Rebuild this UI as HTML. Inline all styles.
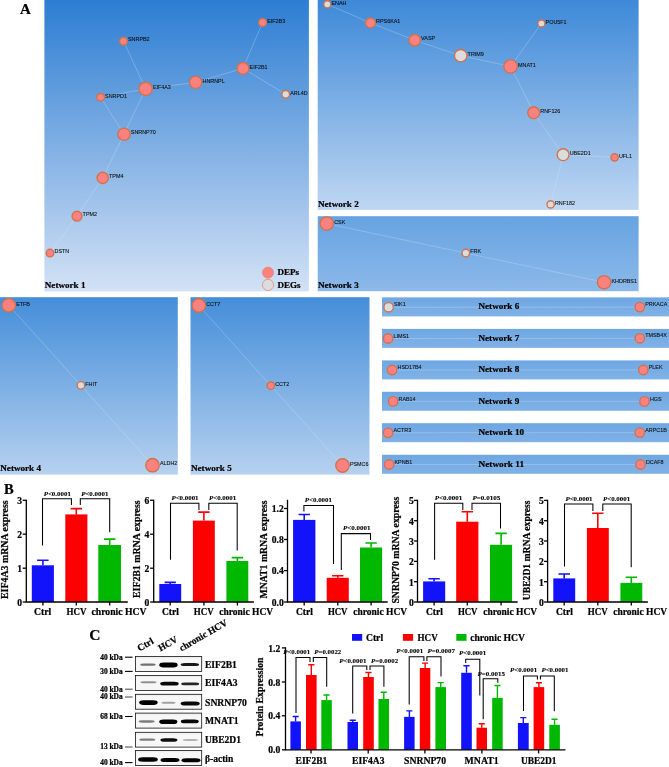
<!DOCTYPE html><html><head><meta charset="utf-8"><title>Figure</title>
<style>html,body{margin:0;padding:0;background:#fff}svg{display:block}.s{font-family:'Liberation Serif', serif;font-weight:bold;fill:#000;stroke:#000;stroke-width:0.22px}.n{font-family:'Liberation Sans', sans-serif;font-size:5.4px;fill:#0a0a0a;stroke:#0a0a0a;stroke-width:0.08px}.e{stroke:#dbe8f7;stroke-width:0.7;stroke-opacity:0.42;fill:none}.p{fill:#fb8080;stroke:#d0734a;stroke-width:1.35}.g{fill:#dcdcdc;stroke:#d0734a;stroke-width:1.35}.ax{stroke:#000;stroke-width:1.3;fill:none}.br{stroke:#000;stroke-width:1.05;fill:none}</style></head><body>
<svg width="669" height="767" viewBox="0 0 669 767">
<defs>
<linearGradient id="g1" x1="0" y1="0" x2="0" y2="1"><stop offset="0" stop-color="#2c7dd3"/><stop offset="1" stop-color="#d3e2f5"/></linearGradient>
<linearGradient id="g2" x1="0" y1="0" x2="0" y2="1"><stop offset="0" stop-color="#3d89d8"/><stop offset="1" stop-color="#bfd7f2"/></linearGradient>
<linearGradient id="g3" x1="0" y1="0" x2="0" y2="1"><stop offset="0" stop-color="#66a3e2"/><stop offset="1" stop-color="#8cb9e9"/></linearGradient>
<linearGradient id="g4" x1="0" y1="0" x2="0" y2="1"><stop offset="0" stop-color="#448ed9"/><stop offset="1" stop-color="#b6d1ef"/></linearGradient>
<linearGradient id="g6" x1="0" y1="0" x2="0" y2="1"><stop offset="0" stop-color="#6ea7e3"/><stop offset="1" stop-color="#80b2e6"/></linearGradient>
</defs>
<rect width="669" height="767" fill="#fff"/>
<text class="s" x="20" y="14" font-size="15" text-anchor="start">A</text>
<rect x="44.4" y="0" width="264.5" height="291.4" fill="url(#g1)"/>
<rect x="317.7" y="0" width="320.9" height="209.9" fill="url(#g2)"/>
<rect x="317.7" y="216.2" width="320.9" height="75" fill="url(#g3)"/>
<rect x="0" y="297.2" width="177.8" height="177.4" fill="url(#g4)"/>
<rect x="190.5" y="297.2" width="179" height="177.4" fill="url(#g4)"/>
<rect x="382" y="297.4" width="287" height="19" fill="url(#g6)"/>
<rect x="382" y="328.9" width="287" height="19" fill="url(#g6)"/>
<rect x="382" y="360.4" width="287" height="19" fill="url(#g6)"/>
<rect x="382" y="391.8" width="287" height="19" fill="url(#g6)"/>
<rect x="382" y="423.2" width="287" height="19" fill="url(#g6)"/>
<rect x="382" y="454.8" width="287" height="19" fill="url(#g6)"/>
<line class="e" x1="262.6" y1="22.6" x2="243.0" y2="68.4"/>
<line class="e" x1="243.0" y1="68.4" x2="195.7" y2="82.3"/>
<line class="e" x1="243.0" y1="68.4" x2="285.7" y2="94.3"/>
<line class="e" x1="195.7" y1="82.3" x2="145.6" y2="88.9"/>
<line class="e" x1="145.6" y1="88.9" x2="123.5" y2="41.2"/>
<line class="e" x1="145.6" y1="88.9" x2="100.6" y2="97.3"/>
<line class="e" x1="145.6" y1="88.9" x2="124.0" y2="134.2"/>
<line class="e" x1="100.6" y1="97.3" x2="124.0" y2="134.2"/>
<line class="e" x1="124.0" y1="134.2" x2="102.7" y2="177.9"/>
<line class="e" x1="102.7" y1="177.9" x2="77.0" y2="216.2"/>
<line class="e" x1="77.0" y1="216.2" x2="50.0" y2="253.1"/>
<circle class="p" cx="262.6" cy="22.6" r="3.92"/>
<circle class="p" cx="243.0" cy="68.4" r="5.92"/>
<circle class="p" cx="195.7" cy="82.3" r="6.12"/>
<circle class="g" cx="285.7" cy="94.3" r="3.82"/>
<circle class="p" cx="145.6" cy="88.9" r="6.62"/>
<circle class="p" cx="123.5" cy="41.2" r="3.82"/>
<circle class="p" cx="100.6" cy="97.3" r="3.82"/>
<circle class="p" cx="124.0" cy="134.2" r="6.12"/>
<circle class="p" cx="102.7" cy="177.9" r="5.62"/>
<circle class="p" cx="77.0" cy="216.2" r="4.92"/>
<circle class="p" cx="50.0" cy="253.1" r="3.82"/>
<text class="n" x="267.2" y="22.8">EIF2B3</text>
<text class="n" x="249.6" y="68.6">EIF2B1</text>
<text class="n" x="202.5" y="82.5">HNRNPL</text>
<text class="n" x="290.2" y="94.5">ARL4D</text>
<text class="n" x="152.9" y="89.1">EIF4A3</text>
<text class="n" x="128.0" y="41.4">SNRPB2</text>
<text class="n" x="105.1" y="97.5">SNRPD1</text>
<text class="n" x="130.8" y="134.4">SNRNP70</text>
<text class="n" x="109.0" y="178.1">TPM4</text>
<text class="n" x="82.6" y="216.4">TPM2</text>
<text class="n" x="54.5" y="253.3">DSTN</text>
<text class="s" x="44.8" y="288.0" font-size="9.2" text-anchor="start" textLength="40.7" lengthAdjust="spacingAndGlyphs">Network 1</text>
<circle cx="268" cy="272.6" r="5.6" fill="#fb8080" stroke="#ec8262" stroke-width="0.6"/>
<circle cx="268" cy="284.9" r="5.6" fill="#dcdcdc" stroke="#e8825e" stroke-width="0.7"/>
<text class="s" x="277.6" y="275.2" font-size="9" text-anchor="start">DEPs</text>
<text class="s" x="277.6" y="287.7" font-size="9" text-anchor="start">DEGs</text>
<line class="e" x1="327.3" y1="4.3" x2="370.5" y2="22.9"/>
<line class="e" x1="370.5" y1="22.9" x2="414.7" y2="40.2"/>
<line class="e" x1="414.7" y1="40.2" x2="460.7" y2="55.7"/>
<line class="e" x1="460.7" y1="55.7" x2="510.6" y2="66.4"/>
<line class="e" x1="510.6" y1="66.4" x2="541.4" y2="23.5"/>
<line class="e" x1="510.6" y1="66.4" x2="533.7" y2="112.7"/>
<line class="e" x1="533.7" y1="112.7" x2="563.1" y2="154.7"/>
<line class="e" x1="563.1" y1="154.7" x2="614.6" y2="157.4"/>
<line class="e" x1="563.1" y1="154.7" x2="550.6" y2="204.4"/>
<circle class="g" cx="327.3" cy="4.3" r="3.52"/>
<circle class="p" cx="370.5" cy="22.9" r="4.92"/>
<circle class="p" cx="414.7" cy="40.2" r="5.72"/>
<circle class="g" cx="460.7" cy="55.7" r="6.22"/>
<circle class="g" cx="541.4" cy="23.5" r="3.52"/>
<circle class="p" cx="510.6" cy="66.4" r="6.72"/>
<circle class="p" cx="533.7" cy="112.7" r="5.92"/>
<circle class="g" cx="563.1" cy="154.7" r="5.92"/>
<circle class="p" cx="614.6" cy="157.4" r="3.62"/>
<circle class="g" cx="550.6" cy="204.4" r="3.62"/>
<text class="n" x="331.5" y="4.5">ENAH</text>
<text class="n" x="376.1" y="23.1">RPS6KA1</text>
<text class="n" x="421.1" y="40.4">VASP</text>
<text class="n" x="467.6" y="55.9">TRIM9</text>
<text class="n" x="545.6" y="23.7">POU5F1</text>
<text class="n" x="518.0" y="66.6">MNAT1</text>
<text class="n" x="540.3" y="112.9">RNF126</text>
<text class="n" x="569.7" y="154.9">UBE2D1</text>
<text class="n" x="618.9" y="157.6">UFL1</text>
<text class="n" x="554.9" y="204.6">RNF182</text>
<text class="s" x="318.0" y="206.5" font-size="9.2" text-anchor="start" textLength="40.7" lengthAdjust="spacingAndGlyphs">Network 2</text>
<line class="e" x1="326.8" y1="223.6" x2="465.8" y2="253.1"/>
<line class="e" x1="465.8" y1="253.1" x2="604.1" y2="282.3"/>
<circle class="p" cx="326.8" cy="223.6" r="6.72"/>
<circle class="g" cx="465.8" cy="253.1" r="3.82"/>
<circle class="p" cx="604.1" cy="282.3" r="6.72"/>
<text class="n" x="334.2" y="223.8">CSK</text>
<text class="n" x="470.3" y="253.3">FRK</text>
<text class="n" x="611.5" y="282.5">KHDRBS1</text>
<text class="s" x="318.0" y="288.0" font-size="9.2" text-anchor="start" textLength="40.7" lengthAdjust="spacingAndGlyphs">Network 3</text>
<line class="e" x1="8.8" y1="305.3" x2="80.9" y2="385.4"/>
<line class="e" x1="80.9" y1="385.4" x2="152.5" y2="465.2"/>
<circle class="p" cx="8.8" cy="305.3" r="6.72"/>
<circle class="g" cx="80.9" cy="385.4" r="3.72"/>
<circle class="p" cx="152.5" cy="465.2" r="6.72"/>
<text class="n" x="16.2" y="305.5">ETFB</text>
<text class="n" x="85.3" y="385.6">FHIT</text>
<text class="n" x="159.9" y="465.4">ALDH2</text>
<text class="s" x="0.3" y="470.8" font-size="9.2" text-anchor="start" textLength="40.7" lengthAdjust="spacingAndGlyphs">Network 4</text>
<line class="e" x1="198.8" y1="305.5" x2="270.8" y2="385.7"/>
<line class="e" x1="270.8" y1="385.7" x2="342.5" y2="465.5"/>
<circle class="p" cx="198.8" cy="305.5" r="6.72"/>
<circle class="p" cx="270.8" cy="385.7" r="3.72"/>
<circle class="p" cx="342.5" cy="465.5" r="6.72"/>
<text class="n" x="206.2" y="305.7">CCT7</text>
<text class="n" x="275.2" y="385.9">CCT2</text>
<text class="n" x="349.9" y="465.7">PSMC6</text>
<text class="s" x="191.0" y="471.0" font-size="9.2" text-anchor="start" textLength="40.7" lengthAdjust="spacingAndGlyphs">Network 5</text>
<line class="e" x1="388.6" y1="307.3" x2="639.8" y2="307.1"/>
<circle class="g" cx="388.6" cy="307.3" r="4.72"/>
<circle class="p" cx="639.8" cy="307.1" r="4.72"/>
<text class="n" x="394.0" y="306.4">SIK1</text>
<text class="n" x="645.2" y="306.2">PRKACA</text>
<text class="s" x="478.5" y="309.29999999999995" font-size="9.2" text-anchor="start" textLength="40.7" lengthAdjust="spacingAndGlyphs">Network 6</text>
<line class="e" x1="388.1" y1="338.5" x2="639.8" y2="338.3"/>
<circle class="p" cx="388.1" cy="338.5" r="4.72"/>
<circle class="p" cx="639.8" cy="338.3" r="4.72"/>
<text class="n" x="393.5" y="337.6">LIMS1</text>
<text class="n" x="645.2" y="337.4">TMSB4X</text>
<text class="s" x="478.5" y="340.79999999999995" font-size="9.2" text-anchor="start" textLength="40.7" lengthAdjust="spacingAndGlyphs">Network 7</text>
<line class="e" x1="392.1" y1="370.0" x2="643.3" y2="370.0"/>
<circle class="p" cx="392.1" cy="370.0" r="4.72"/>
<circle class="p" cx="643.3" cy="370.0" r="4.72"/>
<text class="n" x="397.5" y="369.1">HSD17B4</text>
<text class="n" x="648.7" y="369.1">PLEK</text>
<text class="s" x="478.5" y="372.29999999999995" font-size="9.2" text-anchor="start" textLength="40.7" lengthAdjust="spacingAndGlyphs">Network 8</text>
<line class="e" x1="393.1" y1="401.4" x2="644.5" y2="401.4"/>
<circle class="p" cx="393.1" cy="401.4" r="4.72"/>
<circle class="p" cx="644.5" cy="401.4" r="4.72"/>
<text class="n" x="398.5" y="400.5">RAB14</text>
<text class="n" x="649.9" y="400.5">HGS</text>
<text class="s" x="478.5" y="403.7" font-size="9.2" text-anchor="start" textLength="40.7" lengthAdjust="spacingAndGlyphs">Network 9</text>
<line class="e" x1="388.1" y1="432.8" x2="639.8" y2="432.6"/>
<circle class="p" cx="388.1" cy="432.8" r="4.72"/>
<circle class="p" cx="639.8" cy="432.6" r="4.72"/>
<text class="n" x="393.5" y="431.9">ACTR3</text>
<text class="n" x="645.2" y="431.7">ARPC1B</text>
<text class="s" x="478.5" y="435.09999999999997" font-size="9.2" text-anchor="start" textLength="45.6" lengthAdjust="spacingAndGlyphs">Network 10</text>
<line class="e" x1="389.1" y1="464.5" x2="640.5" y2="464.5"/>
<circle class="p" cx="389.1" cy="464.5" r="4.72"/>
<circle class="p" cx="640.5" cy="464.5" r="4.72"/>
<text class="n" x="394.5" y="463.6">KPNB1</text>
<text class="n" x="645.9" y="463.6">DCAF8</text>
<text class="s" x="478.5" y="466.7" font-size="9.2" text-anchor="start" textLength="45.6" lengthAdjust="spacingAndGlyphs">Network 11</text>
<text class="s" x="4" y="494.2" font-size="14.5" text-anchor="start">B</text>
<rect x="31.8" y="565.3" width="22.1" height="36.7" fill="#1212fb"/>
<path d="M42.9 565.3V560.2M37.1 560.2H48.6" stroke="#1212fb" stroke-width="1.6" fill="none"/>
<path class="ax" d="M42.9 602v3.6"/>
<rect x="65.3" y="514.4" width="22.1" height="87.6" fill="#ff0000"/>
<path d="M76.3 514.4V508.6M70.6 508.6H82.0" stroke="#ff0000" stroke-width="1.6" fill="none"/>
<path class="ax" d="M76.3 602v3.6"/>
<rect x="98.3" y="545.0" width="22.7" height="57.0" fill="#00b800"/>
<path d="M109.7 545.0V539.1M104.0 539.1H115.4" stroke="#00b800" stroke-width="1.6" fill="none"/>
<path class="ax" d="M109.7 602v3.6"/>
<path class="ax" d="M26.3 499.7V602H127.8"/>
<path class="ax" d="M26.3 500.3h-3.6"/>
<text class="s" x="22.0" y="504.1" font-size="9.6" text-anchor="end">3</text>
<path class="ax" d="M26.3 534.2h-3.6"/>
<text class="s" x="22.0" y="538.0" font-size="9.6" text-anchor="end">2</text>
<path class="ax" d="M26.3 568.2h-3.6"/>
<text class="s" x="22.0" y="572.0" font-size="9.6" text-anchor="end">1</text>
<path class="ax" d="M26.3 602h-3.6"/>
<text class="s" x="22.0" y="605.8" font-size="9.6" text-anchor="end">0</text>
<text class="s" font-size="9.8" text-anchor="middle" textLength="98.6" lengthAdjust="spacingAndGlyphs" transform="translate(8.4,549.7) rotate(-90)">EIF4A3 mRNA express</text>
<path class="br" d="M42.5 545.6V498.8H71.4V505.0"/>
<path class="br" d="M80.3 505.0V498.8H109.7V532.2"/>
<text class="s" x="43.7" y="495.6" font-size="7.1" style="stroke-width:0.12px" textLength="27.2" lengthAdjust="spacingAndGlyphs"><tspan font-style="italic">P</tspan>&lt;0.0001</text>
<text class="s" x="81.2" y="495.6" font-size="7.1" style="stroke-width:0.12px" textLength="27.2" lengthAdjust="spacingAndGlyphs"><tspan font-style="italic">P</tspan>&lt;0.0001</text>
<text class="s" x="34.0" y="614.8" font-size="9.5" text-anchor="start" textLength="17.3" lengthAdjust="spacingAndGlyphs">Ctrl</text>
<text class="s" x="66.4" y="614.8" font-size="9.5" text-anchor="start" textLength="20.0" lengthAdjust="spacingAndGlyphs">HCV</text>
<text class="s" x="91.5" y="614.8" font-size="9.5" text-anchor="start" textLength="55.0" lengthAdjust="spacingAndGlyphs">chronic HCV</text>
<rect x="159.3" y="584.0" width="21.9" height="18.0" fill="#1212fb"/>
<path d="M170.2 584.0V582.4M164.6 582.4H175.9" stroke="#1212fb" stroke-width="1.6" fill="none"/>
<path class="ax" d="M170.2 602v3.6"/>
<rect x="192.9" y="520.6" width="21.9" height="81.4" fill="#ff0000"/>
<path d="M203.9 520.6V512.1M198.2 512.1H209.6" stroke="#ff0000" stroke-width="1.6" fill="none"/>
<path class="ax" d="M203.9 602v3.6"/>
<rect x="226.4" y="561.0" width="21.9" height="41.0" fill="#00b800"/>
<path d="M237.4 561.0V557.6M231.7 557.6H243.1" stroke="#00b800" stroke-width="1.6" fill="none"/>
<path class="ax" d="M237.4 602v3.6"/>
<path class="ax" d="M153.7 499.7V602H253.9"/>
<path class="ax" d="M153.7 500.3h-3.6"/>
<text class="s" x="149.3" y="504.1" font-size="9.6" text-anchor="end">6</text>
<path class="ax" d="M153.7 534.2h-3.6"/>
<text class="s" x="149.3" y="538.0" font-size="9.6" text-anchor="end">4</text>
<path class="ax" d="M153.7 568.2h-3.6"/>
<text class="s" x="149.3" y="572.0" font-size="9.6" text-anchor="end">2</text>
<path class="ax" d="M153.7 602h-3.6"/>
<text class="s" x="149.3" y="605.8" font-size="9.6" text-anchor="end">0</text>
<text class="s" font-size="9.8" text-anchor="middle" textLength="97.6" lengthAdjust="spacingAndGlyphs" transform="translate(139.9,549.2) rotate(-90)">EIF2B1 mRNA express</text>
<path class="br" d="M170.5 559.8V503.3H198.9V510.0"/>
<path class="br" d="M208.8 510.0V503.3H237.2V550.4"/>
<text class="s" x="171.4" y="500.3" font-size="7.1" style="stroke-width:0.12px" textLength="27.2" lengthAdjust="spacingAndGlyphs"><tspan font-style="italic">P</tspan>&lt;0.0001</text>
<text class="s" x="209.0" y="500.3" font-size="7.1" style="stroke-width:0.12px" textLength="27.2" lengthAdjust="spacingAndGlyphs"><tspan font-style="italic">P</tspan>&lt;0.0001</text>
<text class="s" x="162.0" y="614.8" font-size="9.5" text-anchor="start" textLength="16.9" lengthAdjust="spacingAndGlyphs">Ctrl</text>
<text class="s" x="193.8" y="614.8" font-size="9.5" text-anchor="start" textLength="19.9" lengthAdjust="spacingAndGlyphs">HCV</text>
<text class="s" x="219.2" y="614.8" font-size="9.5" text-anchor="start" textLength="54.0" lengthAdjust="spacingAndGlyphs">chronic HCV</text>
<rect x="293.1" y="519.9" width="22.3" height="82.1" fill="#1212fb"/>
<path d="M304.2 519.9V514.5M298.6 514.5H309.9" stroke="#1212fb" stroke-width="1.6" fill="none"/>
<path class="ax" d="M304.2 602v3.6"/>
<rect x="326.7" y="577.8" width="22.1" height="24.2" fill="#ff0000"/>
<path d="M337.8 577.8V575.8M332.1 575.8H343.4" stroke="#ff0000" stroke-width="1.6" fill="none"/>
<path class="ax" d="M337.8 602v3.6"/>
<rect x="360.0" y="547.5" width="22.1" height="54.5" fill="#00b800"/>
<path d="M371.1 547.5V543.0M365.4 543.0H376.8" stroke="#00b800" stroke-width="1.6" fill="none"/>
<path class="ax" d="M371.1 602v3.6"/>
<path class="ax" d="M287.5 499.7V602H387.7"/>
<path class="ax" d="M287.5 508.5h-3.6"/>
<text class="s" x="283.8" y="512.3" font-size="9.6" text-anchor="end">1.2</text>
<path class="ax" d="M287.5 539.5h-3.6"/>
<text class="s" x="283.8" y="543.3" font-size="9.6" text-anchor="end">0.8</text>
<path class="ax" d="M287.5 570.6h-3.6"/>
<text class="s" x="283.8" y="574.4" font-size="9.6" text-anchor="end">0.4</text>
<path class="ax" d="M287.5 602h-3.6"/>
<text class="s" x="283.8" y="605.8" font-size="9.6" text-anchor="end">0.0</text>
<text class="s" font-size="9.8" text-anchor="middle" textLength="98.0" lengthAdjust="spacingAndGlyphs" transform="translate(266.5,549.4) rotate(-90)">MNAT1 mRNA express</text>
<path class="br" d="M303.9 511.6V505.5H333.5V563.9"/>
<path class="br" d="M341.3 569.9V533.6H370.5V539.9"/>
<text class="s" x="304.8" y="502.3" font-size="7.1" style="stroke-width:0.12px" textLength="27.2" lengthAdjust="spacingAndGlyphs"><tspan font-style="italic">P</tspan>&lt;0.0001</text>
<text class="s" x="342.9" y="530.3" font-size="7.1" style="stroke-width:0.12px" textLength="27.5" lengthAdjust="spacingAndGlyphs"><tspan font-style="italic">P</tspan>&lt;0.0001</text>
<text class="s" x="296.0" y="614.8" font-size="9.5" text-anchor="start" textLength="16.9" lengthAdjust="spacingAndGlyphs">Ctrl</text>
<text class="s" x="327.9" y="614.8" font-size="9.5" text-anchor="start" textLength="19.6" lengthAdjust="spacingAndGlyphs">HCV</text>
<text class="s" x="353.2" y="614.8" font-size="9.5" text-anchor="start" textLength="54.0" lengthAdjust="spacingAndGlyphs">chronic HCV</text>
<rect x="423.1" y="581.4" width="22.1" height="20.6" fill="#1212fb"/>
<path d="M434.1 581.4V578.7M428.4 578.7H439.8" stroke="#1212fb" stroke-width="1.6" fill="none"/>
<path class="ax" d="M434.1 602v3.6"/>
<rect x="456.2" y="521.7" width="22.2" height="80.3" fill="#ff0000"/>
<path d="M467.3 521.7V511.8M461.6 511.8H473.0" stroke="#ff0000" stroke-width="1.6" fill="none"/>
<path class="ax" d="M467.3 602v3.6"/>
<rect x="490.0" y="544.8" width="22.1" height="57.2" fill="#00b800"/>
<path d="M501.1 544.8V533.4M495.4 533.4H506.8" stroke="#00b800" stroke-width="1.6" fill="none"/>
<path class="ax" d="M501.1 602v3.6"/>
<path class="ax" d="M417.5 499.7V602H517.7"/>
<path class="ax" d="M417.5 500.4h-3.6"/>
<text class="s" x="413.8" y="504.2" font-size="9.6" text-anchor="end">5</text>
<path class="ax" d="M417.5 520.7h-3.6"/>
<text class="s" x="413.8" y="524.5" font-size="9.6" text-anchor="end">4</text>
<path class="ax" d="M417.5 541.0h-3.6"/>
<text class="s" x="413.8" y="544.8" font-size="9.6" text-anchor="end">3</text>
<path class="ax" d="M417.5 561.4h-3.6"/>
<text class="s" x="413.8" y="565.1999999999999" font-size="9.6" text-anchor="end">2</text>
<path class="ax" d="M417.5 581.7h-3.6"/>
<text class="s" x="413.8" y="585.5" font-size="9.6" text-anchor="end">1</text>
<path class="ax" d="M417.5 602h-3.6"/>
<text class="s" x="413.8" y="605.8" font-size="9.6" text-anchor="end">0</text>
<text class="s" font-size="9.8" text-anchor="middle" textLength="107.0" lengthAdjust="spacingAndGlyphs" transform="translate(399.4,550.1) rotate(-90)">SNRNP70 mRNA express</text>
<path class="br" d="M434.6 559.8V503.3H462.8V510.0"/>
<path class="br" d="M472.0 510.0V503.3H500.5V528.4"/>
<text class="s" x="434.8" y="499.9" font-size="7.1" style="stroke-width:0.12px" textLength="27.5" lengthAdjust="spacingAndGlyphs"><tspan font-style="italic">P</tspan>&lt;0.0001</text>
<text class="s" x="472.4" y="499.9" font-size="7.1" style="stroke-width:0.12px" textLength="28.0" lengthAdjust="spacingAndGlyphs"><tspan font-style="italic">P</tspan>=0.0105</text>
<text class="s" x="426.0" y="614.8" font-size="9.5" text-anchor="start" textLength="16.9" lengthAdjust="spacingAndGlyphs">Ctrl</text>
<text class="s" x="457.9" y="614.8" font-size="9.5" text-anchor="start" textLength="19.6" lengthAdjust="spacingAndGlyphs">HCV</text>
<text class="s" x="483.2" y="614.8" font-size="9.5" text-anchor="start" textLength="54.0" lengthAdjust="spacingAndGlyphs">chronic HCV</text>
<rect x="553.3" y="578.4" width="21.9" height="23.6" fill="#1212fb"/>
<path d="M564.2 578.4V574.0M558.5 574.0H570.0" stroke="#1212fb" stroke-width="1.6" fill="none"/>
<path class="ax" d="M564.2 602v3.6"/>
<rect x="586.9" y="528.0" width="21.9" height="74.0" fill="#ff0000"/>
<path d="M597.8 528.0V513.2M592.1 513.2H603.5" stroke="#ff0000" stroke-width="1.6" fill="none"/>
<path class="ax" d="M597.8 602v3.6"/>
<rect x="620.4" y="582.9" width="21.9" height="19.1" fill="#00b800"/>
<path d="M631.3 582.9V577.3M625.6 577.3H637.0" stroke="#00b800" stroke-width="1.6" fill="none"/>
<path class="ax" d="M631.3 602v3.6"/>
<path class="ax" d="M547.6 499.7V602H647.9"/>
<path class="ax" d="M547.6 500.4h-3.6"/>
<text class="s" x="543.8" y="504.2" font-size="9.6" text-anchor="end">5</text>
<path class="ax" d="M547.6 520.7h-3.6"/>
<text class="s" x="543.8" y="524.5" font-size="9.6" text-anchor="end">4</text>
<path class="ax" d="M547.6 541.0h-3.6"/>
<text class="s" x="543.8" y="544.8" font-size="9.6" text-anchor="end">3</text>
<path class="ax" d="M547.6 561.4h-3.6"/>
<text class="s" x="543.8" y="565.1999999999999" font-size="9.6" text-anchor="end">2</text>
<path class="ax" d="M547.6 581.7h-3.6"/>
<text class="s" x="543.8" y="585.5" font-size="9.6" text-anchor="end">1</text>
<path class="ax" d="M547.6 602h-3.6"/>
<text class="s" x="543.8" y="605.8" font-size="9.6" text-anchor="end">0</text>
<text class="s" font-size="9.8" text-anchor="middle" textLength="99.8" lengthAdjust="spacingAndGlyphs" transform="translate(530.0,550.3) rotate(-90)">UBE2D1 mRNA express</text>
<path class="br" d="M564.5 566.6V503.9H592.9V511.0"/>
<path class="br" d="M602.8 511.0V503.9H631.2V567.2"/>
<text class="s" x="565.4" y="500.6" font-size="7.1" style="stroke-width:0.12px" textLength="27.2" lengthAdjust="spacingAndGlyphs"><tspan font-style="italic">P</tspan>&lt;0.0001</text>
<text class="s" x="603.0" y="500.6" font-size="7.1" style="stroke-width:0.12px" textLength="27.2" lengthAdjust="spacingAndGlyphs"><tspan font-style="italic">P</tspan>&lt;0.0001</text>
<text class="s" x="556.0" y="614.8" font-size="9.5" text-anchor="start" textLength="16.9" lengthAdjust="spacingAndGlyphs">Ctrl</text>
<text class="s" x="587.8" y="614.8" font-size="9.5" text-anchor="start" textLength="19.9" lengthAdjust="spacingAndGlyphs">HCV</text>
<text class="s" x="613.2" y="614.8" font-size="9.5" text-anchor="start" textLength="54.0" lengthAdjust="spacingAndGlyphs">chronic HCV</text>
<text class="s" x="89.2" y="640" font-size="15.5" text-anchor="start">C</text>
<text class="s" font-size="9.5" textLength="17.2" lengthAdjust="spacingAndGlyphs" transform="translate(139.5,651.5) rotate(-30)">Ctrl</text>
<text class="s" font-size="9.5" textLength="20.5" lengthAdjust="spacingAndGlyphs" transform="translate(160.5,651.5) rotate(-30)">HCV</text>
<text class="s" font-size="9.5" textLength="54" lengthAdjust="spacingAndGlyphs" transform="translate(181.5,651.5) rotate(-30)">chronic HCV</text>
<defs><filter id="bl" x="-20%" y="-100%" width="140%" height="300%"><feGaussianBlur stdDeviation="0.75 0.55"/></filter><linearGradient id="bx" x1="0" y1="0" x2="0" y2="1"><stop offset="0" stop-color="#e9e9e9"/><stop offset="0.18" stop-color="#f8f8f8"/><stop offset="1" stop-color="#f6f6f6"/></linearGradient></defs>
<rect x="135.4" y="656.6" width="66.3" height="14.8" fill="url(#bx)" stroke="#111" stroke-width="0.8"/>
<rect x="140.2" y="663.56" width="15.5" height="2.29" rx="3.7" ry="1.14" fill="#000" fill-opacity="0.55" filter="url(#bl)"/>
<rect x="159.2" y="662.54" width="18.5" height="4.93" rx="4.4" ry="2.46" fill="#000" fill-opacity="1.0" filter="url(#bl)"/>
<rect x="180.6" y="662.92" width="18.5" height="3.17" rx="4.4" ry="1.58" fill="#000" fill-opacity="0.9" filter="url(#bl)"/>
<rect x="135.4" y="675.5" width="66.3" height="14.9" fill="url(#bx)" stroke="#111" stroke-width="0.8"/>
<rect x="140.5" y="681.24" width="16.0" height="2.11" rx="3.8" ry="1.06" fill="#000" fill-opacity="0.42" filter="url(#bl)"/>
<rect x="160.2" y="681.85" width="18.5" height="3.70" rx="4.4" ry="1.85" fill="#000" fill-opacity="0.97" filter="url(#bl)"/>
<rect x="181.2" y="682.49" width="18.0" height="2.82" rx="4.3" ry="1.41" fill="#000" fill-opacity="0.85" filter="url(#bl)"/>
<rect x="135.4" y="694.3" width="66.3" height="14.9" fill="url(#bx)" stroke="#111" stroke-width="0.8"/>
<rect x="139.2" y="700.31" width="18.5" height="4.58" rx="4.4" ry="2.29" fill="#000" fill-opacity="1.0" filter="url(#bl)"/>
<rect x="161.5" y="701.73" width="14.0" height="1.94" rx="3.4" ry="0.97" fill="#000" fill-opacity="0.35" filter="url(#bl)"/>
<rect x="180.7" y="701.38" width="19.0" height="4.05" rx="4.6" ry="2.02" fill="#000" fill-opacity="0.97" filter="url(#bl)"/>
<rect x="135.4" y="713.1" width="66.3" height="15.0" fill="url(#bx)" stroke="#111" stroke-width="0.8"/>
<rect x="138.7" y="720.36" width="16.0" height="2.29" rx="3.8" ry="1.14" fill="#000" fill-opacity="0.5" filter="url(#bl)"/>
<rect x="159.2" y="719.41" width="18.2" height="4.58" rx="4.4" ry="2.29" fill="#000" fill-opacity="1.0" filter="url(#bl)"/>
<rect x="180.8" y="719.55" width="18.0" height="3.70" rx="4.3" ry="1.85" fill="#000" fill-opacity="0.97" filter="url(#bl)"/>
<rect x="135.4" y="732.3" width="66.3" height="14.8" fill="url(#bx)" stroke="#111" stroke-width="0.8"/>
<rect x="139.3" y="738.56" width="16.0" height="2.29" rx="3.8" ry="1.14" fill="#000" fill-opacity="0.5" filter="url(#bl)"/>
<rect x="160.4" y="738.14" width="17.0" height="3.52" rx="4.1" ry="1.76" fill="#000" fill-opacity="0.95" filter="url(#bl)"/>
<rect x="182.9" y="739.12" width="15.0" height="1.76" rx="3.6" ry="0.88" fill="#000" fill-opacity="0.28" filter="url(#bl)"/>
<rect x="135.4" y="750.5" width="66.3" height="14.9" fill="url(#bx)" stroke="#111" stroke-width="0.8"/>
<rect x="138.1" y="757.30" width="19.7" height="4.40" rx="4.7" ry="2.20" fill="#000" fill-opacity="1.0" filter="url(#bl)"/>
<rect x="160.5" y="757.98" width="19.0" height="4.05" rx="4.6" ry="2.02" fill="#000" fill-opacity="1.0" filter="url(#bl)"/>
<rect x="181.5" y="758.18" width="19.0" height="4.05" rx="4.6" ry="2.02" fill="#000" fill-opacity="1.0" filter="url(#bl)"/>
<text class="s" x="205.0" y="667.6" font-size="9.5" text-anchor="start" textLength="31.8" lengthAdjust="spacingAndGlyphs">EIF2B1</text>
<text class="s" x="205.0" y="686.2" font-size="9.5" text-anchor="start" textLength="32.7" lengthAdjust="spacingAndGlyphs">EIF4A3</text>
<text class="s" x="205.0" y="705.9" font-size="9.5" text-anchor="start" textLength="41.9" lengthAdjust="spacingAndGlyphs">SNRNP70</text>
<text class="s" x="205.0" y="723.9" font-size="9.5" text-anchor="start" textLength="33.5" lengthAdjust="spacingAndGlyphs">MNAT1</text>
<text class="s" x="205.0" y="742.9" font-size="9.5" text-anchor="start" textLength="35.9" lengthAdjust="spacingAndGlyphs">UBE2D1</text>
<text class="s" x="205.0" y="761.8" font-size="9.5" text-anchor="start" textLength="28.3" lengthAdjust="spacingAndGlyphs">β-actin</text>
<text class="s" x="100.2" y="659.6" font-size="7.3" text-anchor="start" textLength="22.5" lengthAdjust="spacingAndGlyphs">40 kDa</text>
<path d="M125 657.2h7.6" stroke="#000" stroke-width="1.1"/>
<text class="s" x="100.2" y="673.8" font-size="7.3" text-anchor="start" textLength="22.5" lengthAdjust="spacingAndGlyphs">30 kDa</text>
<path d="M125 671.4h7.6" stroke="#000" stroke-width="1.1"/>
<text class="s" x="100.2" y="691.6" font-size="7.3" text-anchor="start" textLength="22.5" lengthAdjust="spacingAndGlyphs">40 kDa</text>
<path d="M125 689.2h7.6" stroke="#000" stroke-width="0.75"/>
<text class="s" x="100.2" y="699.4" font-size="7.3" text-anchor="start" textLength="22.5" lengthAdjust="spacingAndGlyphs">40 kDa</text>
<path d="M125 697.0h7.6" stroke="#000" stroke-width="0.75"/>
<text class="s" x="100.2" y="718.9" font-size="7.3" text-anchor="start" textLength="22.5" lengthAdjust="spacingAndGlyphs">68 kDa</text>
<path d="M125 716.5h7.6" stroke="#000" stroke-width="1.1"/>
<text class="s" x="100.2" y="749.4" font-size="7.3" text-anchor="start" textLength="22.5" lengthAdjust="spacingAndGlyphs">13 kDa</text>
<path d="M125 747.0h7.6" stroke="#000" stroke-width="0.75"/>
<text class="s" x="100.2" y="765.0" font-size="7.3" text-anchor="start" textLength="22.5" lengthAdjust="spacingAndGlyphs">40 kDa</text>
<path d="M125 762.6h7.6" stroke="#000" stroke-width="1.1"/>
<rect x="352.0" y="634" width="10.2" height="6.8" fill="#1212fb"/>
<text class="s" x="365.9" y="641.2" font-size="9.5" text-anchor="start" textLength="17.2" lengthAdjust="spacingAndGlyphs">Ctrl</text>
<rect x="402.9" y="634" width="10.2" height="6.8" fill="#ff0000"/>
<text class="s" x="417.5" y="641.2" font-size="9.5" text-anchor="start" textLength="20.2" lengthAdjust="spacingAndGlyphs">HCV</text>
<rect x="456.3" y="634" width="10.2" height="6.8" fill="#00b800"/>
<text class="s" x="470.2" y="641.2" font-size="9.5" text-anchor="start" textLength="54.9" lengthAdjust="spacingAndGlyphs">chronic HCV</text>
<rect x="290.4" y="721.4" width="10.5" height="28.4" fill="#1212fb"/>
<path d="M295.6 721.4V716.5M292.6 716.5H298.7" stroke="#1212fb" stroke-width="1.4" fill="none"/>
<rect x="306.0" y="675.0" width="10.6" height="74.8" fill="#ff0000"/>
<path d="M311.3 675.0V664.7M308.2 664.7H314.4" stroke="#ff0000" stroke-width="1.4" fill="none"/>
<rect x="321.3" y="700.1" width="10.5" height="49.7" fill="#00b800"/>
<path d="M326.6 700.1V695.0M323.5 695.0H329.6" stroke="#00b800" stroke-width="1.4" fill="none"/>
<path class="ax" d="M311.0 749.8v3.6"/>
<text class="s" x="295.5" y="764.3" font-size="9.5" text-anchor="start" textLength="31.9" lengthAdjust="spacingAndGlyphs">EIF2B1</text>
<rect x="347.5" y="722.0" width="10.5" height="27.8" fill="#1212fb"/>
<path d="M352.8 722.0V720.3M349.7 720.3H355.8" stroke="#1212fb" stroke-width="1.4" fill="none"/>
<rect x="363.2" y="677.0" width="10.6" height="72.8" fill="#ff0000"/>
<path d="M368.5 677.0V672.5M365.4 672.5H371.6" stroke="#ff0000" stroke-width="1.4" fill="none"/>
<rect x="378.5" y="699.0" width="10.5" height="50.8" fill="#00b800"/>
<path d="M383.8 699.0V692.3M380.7 692.3H386.8" stroke="#00b800" stroke-width="1.4" fill="none"/>
<path class="ax" d="M368.2 749.8v3.6"/>
<text class="s" x="352.0" y="764.3" font-size="9.5" text-anchor="start" textLength="32.5" lengthAdjust="spacingAndGlyphs">EIF4A3</text>
<rect x="404.1" y="716.9" width="10.5" height="32.9" fill="#1212fb"/>
<path d="M409.4 716.9V710.9M406.3 710.9H412.4" stroke="#1212fb" stroke-width="1.4" fill="none"/>
<rect x="419.8" y="668.0" width="10.5" height="81.8" fill="#ff0000"/>
<path d="M425.1 668.0V663.1M422.0 663.1H428.1" stroke="#ff0000" stroke-width="1.4" fill="none"/>
<rect x="435.4" y="687.1" width="10.6" height="62.7" fill="#00b800"/>
<path d="M440.7 687.1V682.6M437.6 682.6H443.8" stroke="#00b800" stroke-width="1.4" fill="none"/>
<path class="ax" d="M424.9 749.8v3.6"/>
<text class="s" x="404.0" y="764.3" font-size="9.5" text-anchor="start" textLength="42.0" lengthAdjust="spacingAndGlyphs">SNRNP70</text>
<rect x="461.2" y="672.8" width="10.6" height="77.0" fill="#1212fb"/>
<path d="M466.5 672.8V665.8M463.4 665.8H469.6" stroke="#1212fb" stroke-width="1.4" fill="none"/>
<rect x="476.5" y="727.7" width="10.5" height="22.1" fill="#ff0000"/>
<path d="M481.8 727.7V723.7M478.7 723.7H484.8" stroke="#ff0000" stroke-width="1.4" fill="none"/>
<rect x="492.2" y="697.9" width="10.5" height="51.9" fill="#00b800"/>
<path d="M497.4 697.9V685.5M494.4 685.5H500.5" stroke="#00b800" stroke-width="1.4" fill="none"/>
<path class="ax" d="M481.9 749.8v3.6"/>
<text class="s" x="464.6" y="764.3" font-size="9.5" text-anchor="start" textLength="34.1" lengthAdjust="spacingAndGlyphs">MNAT1</text>
<rect x="517.9" y="723.0" width="10.8" height="26.8" fill="#1212fb"/>
<path d="M523.3 723.0V717.6M520.2 717.6H526.3" stroke="#1212fb" stroke-width="1.4" fill="none"/>
<rect x="533.6" y="687.1" width="10.6" height="62.7" fill="#ff0000"/>
<path d="M538.9 687.1V682.8M535.9 682.8H542.0" stroke="#ff0000" stroke-width="1.4" fill="none"/>
<rect x="549.3" y="724.8" width="10.6" height="25.0" fill="#00b800"/>
<path d="M554.6 724.8V719.2M551.5 719.2H557.6" stroke="#00b800" stroke-width="1.4" fill="none"/>
<path class="ax" d="M538.6 749.8v3.6"/>
<text class="s" x="520.9" y="764.3" font-size="9.5" text-anchor="start" textLength="35.6" lengthAdjust="spacingAndGlyphs">UBE2D1</text>
<path class="ax" d="M285.5 647.2V749.8H565.5"/>
<path class="ax" d="M285.5 647.9h-3.6"/>
<text class="s" x="280.2" y="651.5" font-size="9.6" text-anchor="end">1.2</text>
<path class="ax" d="M285.5 682.0h-3.6"/>
<text class="s" x="280.2" y="685.6" font-size="9.6" text-anchor="end">0.8</text>
<path class="ax" d="M285.5 715.8h-3.6"/>
<text class="s" x="280.2" y="719.4" font-size="9.6" text-anchor="end">0.4</text>
<path class="ax" d="M285.5 749.8h-3.6"/>
<text class="s" x="280.2" y="753.4" font-size="9.6" text-anchor="end">0.0</text>
<text class="s" font-size="9.8" text-anchor="middle" textLength="79" lengthAdjust="spacingAndGlyphs" transform="translate(263.2,697) rotate(-90)">Protein Expression</text>
<path class="br" d="M296.0 713.1V657.5H310.0V662.0"/>
<path class="br" d="M313.3 662.0V657.5H326.7V686.7"/>
<path class="br" d="M352.7 713.6V666.0H366.8V670.0"/>
<path class="br" d="M370.0 670.0V666.0H383.9V686.7"/>
<path class="br" d="M409.2 704.6V656.8H423.9V660.9"/>
<path class="br" d="M426.9 660.9V656.8H441.0V676.6"/>
<path class="br" d="M465.7 663.1V659.3H479.8V695.6"/>
<path class="br" d="M483.2 719.2V678.8H497.8V682.8"/>
<path class="br" d="M523.5 710.9V675.9H537.4V679.5"/>
<path class="br" d="M540.4 679.5V675.9H554.3V711.3"/>
<text class="s" x="283.2" y="653.7" font-size="7.1" style="stroke-width:0.12px" textLength="27.0" lengthAdjust="spacingAndGlyphs"><tspan font-style="italic">P</tspan>&lt;0.0001</text>
<text class="s" x="314.3" y="653.7" font-size="7.1" style="stroke-width:0.12px" textLength="27.0" lengthAdjust="spacingAndGlyphs"><tspan font-style="italic">P</tspan>=0.0022</text>
<text class="s" x="339.2" y="663.3" font-size="7.1" style="stroke-width:0.12px" textLength="27.3" lengthAdjust="spacingAndGlyphs"><tspan font-style="italic">P</tspan>&lt;0.0001</text>
<text class="s" x="371.1" y="663.3" font-size="7.1" style="stroke-width:0.12px" textLength="27.0" lengthAdjust="spacingAndGlyphs"><tspan font-style="italic">P</tspan>=0.0002</text>
<text class="s" x="396.2" y="653.0" font-size="7.1" style="stroke-width:0.12px" textLength="27.0" lengthAdjust="spacingAndGlyphs"><tspan font-style="italic">P</tspan>&lt;0.0001</text>
<text class="s" x="427.6" y="652.5" font-size="7.1" style="stroke-width:0.12px" textLength="27.4" lengthAdjust="spacingAndGlyphs"><tspan font-style="italic">P</tspan>=0.0007</text>
<text class="s" x="459.0" y="655.3" font-size="7.1" style="stroke-width:0.12px" textLength="27.3" lengthAdjust="spacingAndGlyphs"><tspan font-style="italic">P</tspan>&lt;0.0001</text>
<text class="s" x="477.6" y="675.5" font-size="7.1" style="stroke-width:0.12px" textLength="27.4" lengthAdjust="spacingAndGlyphs"><tspan font-style="italic">P</tspan>=0.0015</text>
<text class="s" x="510.1" y="672.3" font-size="7.1" style="stroke-width:0.12px" textLength="27.0" lengthAdjust="spacingAndGlyphs"><tspan font-style="italic">P</tspan>&lt;0.0001</text>
<text class="s" x="541.5" y="672.3" font-size="7.1" style="stroke-width:0.12px" textLength="27.0" lengthAdjust="spacingAndGlyphs"><tspan font-style="italic">P</tspan>&lt;0.0001</text>
</svg></body></html>
